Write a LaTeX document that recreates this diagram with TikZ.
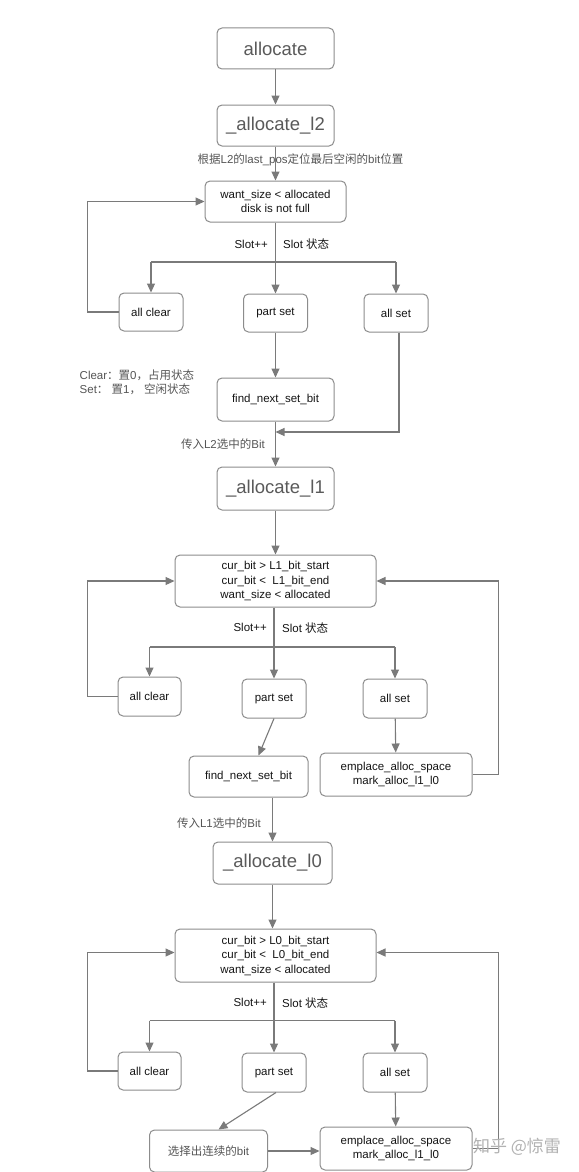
\documentclass[tikz,border=0pt]{standalone}
\usepackage{fontspec}
\setmainfont{Liberation Sans}
\newfontfamily\cjkf{Noto Sans CJK SC}
\newcommand\zht[1]{{\cjkf #1}}
\usetikzlibrary{arrows.meta}
\definecolor{boxc}{HTML}{8C8C8C}
\definecolor{linec}{HTML}{7A7A7A}
\definecolor{txtgray}{HTML}{5A5A5A}
\definecolor{labc}{HTML}{555555}
\definecolor{txtblk}{HTML}{151515}
\begin{document}
\begin{tikzpicture}[x=1pt,y=-1pt,
 box/.style={draw=boxc, rounded corners=5pt, line width=1pt, fill=white, inner sep=0pt, align=center, font=\fontsize{11.5}{14.5}\selectfont, text=txtblk},
 big/.style={box, font=\fontsize{18.5}{22}\selectfont, text=txtgray},
 ln/.style={draw=linec, line width=1.1pt},
 arr/.style={ln, -{Triangle[length=9pt,width=8pt]}},
 lab/.style={font=\fontsize{11.5}{14.5}\selectfont, text=labc, inner sep=0pt},
 slab/.style={font=\fontsize{11.5}{14}\selectfont, text=txtblk, inner sep=0pt}
]
\useasboundingbox (0,0) rectangle (578,1172);
\fill[white] (0,0) rectangle (578,1172);

% ---------- top ----------
\node[big, minimum width=117pt, minimum height=41pt] (alloc) at (275.5,48.5) {allocate};
\node[big, minimum width=117pt, minimum height=41pt] (l2) at (275.5,125.5) {\_allocate\_l2};
\node[box, minimum width=141pt, minimum height=41pt] (want) at (275.5,201.5) {want\_size < allocated\\disk is not full};
\node[box, minimum width=64pt, minimum height=38pt] (clear1) at (151,312) {all clear};
\node[box, minimum width=64pt, minimum height=38pt] (part1) at (275.5,313) {part set};
\node[box, minimum width=64pt, minimum height=38pt] (set1) at (396,313) {all set};
\node[box, minimum width=117pt, minimum height=43pt] (find1) at (275.5,399.5) {find\_next\_set\_bit};

\node[lab] (note2) at (300.5,159.5) {\zht{根据}L2\zht{的}last\_pos\zht{定位最后空闲的}bit\zht{位置}};
\node[slab, anchor=east] (slotA) at (268,244.5) {Slot++};
\node[slab, anchor=west] (slotB) at (283,244.5) {Slot \zht{状态}};
\node[lab, anchor=north west, align=left] (legend) at (79.5,369.5) {Clear\zht{：置}0\zht{，占用状态}\\Set\zht{：}\ \zht{置}1\zht{，}\ \zht{空闲状态}};
\node[lab, anchor=east] (passL2) at (265,444.5) {\zht{传入}L2\zht{选中的}Bit};

\coordinate (h1) at (275.5,262);
\coordinate (j1) at (275.5,432);
\draw[arr] (alloc) -- (l2);
\draw[arr] (l2) -- (want);
\draw[ln] (want.south) -- (h1);
\draw[ln] (clear1.north |- h1) -- (set1.north |- h1);
\draw[arr] (clear1.north |- h1) -- (clear1.north);
\draw[arr] (set1.north |- h1) -- (set1.north);
\draw[arr] (h1) -- (part1.north);
\draw[arr] (clear1.west) -- ++(-31,0) |- (want.west);
\draw[arr] (part1) -- (find1);
\draw[arr] ([xshift=3pt]set1.south) |- (j1);

% ---------- L1 ----------
\node[big, minimum width=117pt, minimum height=43pt] (l1) at (275.5,488.5) {\_allocate\_l1};
\node[box, minimum width=201pt, minimum height=52pt] (cond1) at (275.5,581) {cur\_bit > L1\_bit\_start\\cur\_bit <\ \ L1\_bit\_end\\want\_size < allocated};
\node[box, minimum width=63pt, minimum height=39pt] (clear2) at (149.5,696.5) {all clear};
\node[box, minimum width=64pt, minimum height=39pt] (part2) at (274,698.5) {part set};
\node[box, minimum width=64pt, minimum height=39pt] (set2) at (395,698.5) {all set};
\node[box, minimum width=119pt, minimum height=41pt] (find2) at (248.5,776.5) {find\_next\_set\_bit};
\node[box, minimum width=152pt, minimum height=43pt] (emp2) at (396,774.5) {emplace\_alloc\_space\\mark\_alloc\_l1\_l0};
\node[slab, anchor=east] (slotC) at (267,627.7) {Slot++};
\node[slab, anchor=west] (slotD) at (282,627.7) {Slot \zht{状态}};
\node[lab, anchor=east] (passL1) at (261,823.3) {\zht{传入}L1\zht{选中的}Bit};

\coordinate (h2) at (274,647);
\draw[arr] (find1) -- (l1);
\draw[arr] (l1) -- (cond1);
\draw[ln] (cond1.south -| h2) -- (h2);
\draw[ln] (clear2.north |- h2) -- (set2.north |- h2);
\draw[arr] (clear2.north |- h2) -- (clear2.north);
\draw[arr] (set2.north |- h2) -- (set2.north);
\draw[arr] (h2) -- (part2.north);
\draw[arr] (clear2.west) -- ++(-30,0) |- (cond1.west);
\draw[arr] (part2.south) -- ([xshift=10pt]find2.north);
\draw[arr] (set2) -- (emp2);
\draw[arr] (emp2.east) -- ++(26,0) |- (cond1.east);

% ---------- L0 ----------
\node[big, minimum width=119pt, minimum height=42pt] (l0) at (272.5,863) {\_allocate\_l0};
\node[box, minimum width=201pt, minimum height=53pt] (cond2) at (275.5,955.5) {cur\_bit > L0\_bit\_start\\cur\_bit <\ \ L0\_bit\_end\\want\_size < allocated};
\node[box, minimum width=63pt, minimum height=38pt] (clear3) at (149.5,1071) {all clear};
\node[box, minimum width=64pt, minimum height=39pt] (part3) at (274,1072.5) {part set};
\node[box, minimum width=64pt, minimum height=39pt] (set3) at (395,1072.5) {all set};
\node[box, minimum width=118pt, minimum height=42pt, font=\fontsize{11.5}{14}\selectfont, text=labc] (sel3) at (208.5,1151) {\zht{选择出连续的}bit};
\node[box, minimum width=152pt, minimum height=43pt] (emp3) at (396,1148.5) {emplace\_alloc\_space\\mark\_alloc\_l1\_l0};
\node[slab, anchor=east] (slotE) at (267,1002.7) {Slot++};
\node[slab, anchor=west] (slotF) at (282,1002.7) {Slot \zht{状态}};

\coordinate (h3) at (274,1020.5);
\draw[arr] (l0.north |- find2.south) -- (l0.north);
\draw[arr] (l0) -- (cond2.north -| l0.south);
\draw[ln] (cond2.south -| h3) -- (h3);
\draw[ln] (clear3.north |- h3) -- (set3.north |- h3);
\draw[arr] (clear3.north |- h3) -- (clear3.north);
\draw[arr] (set3.north |- h3) -- (set3.north);
\draw[arr] (h3) -- (part3.north);
\draw[arr] (clear3.west) -- ++(-30,0) |- ([yshift=3pt]cond2.west);
\draw[arr] ([xshift=2pt]part3.south) -- ([xshift=10pt]sel3.north);
\draw[arr] (sel3.east) -- (emp3.west |- sel3.east);
\draw[arr] (set3) -- (emp3);
\draw[arr] (emp3.east) -- ++(26,0) |- ([yshift=3pt]cond2.east);

% watermark
\node[font=\fontsize{17}{20}\selectfont, text=black!30, inner sep=0pt] (wm) at (517,1147) {\zht{知乎 @惊雷}};
\end{tikzpicture}
\end{document}
